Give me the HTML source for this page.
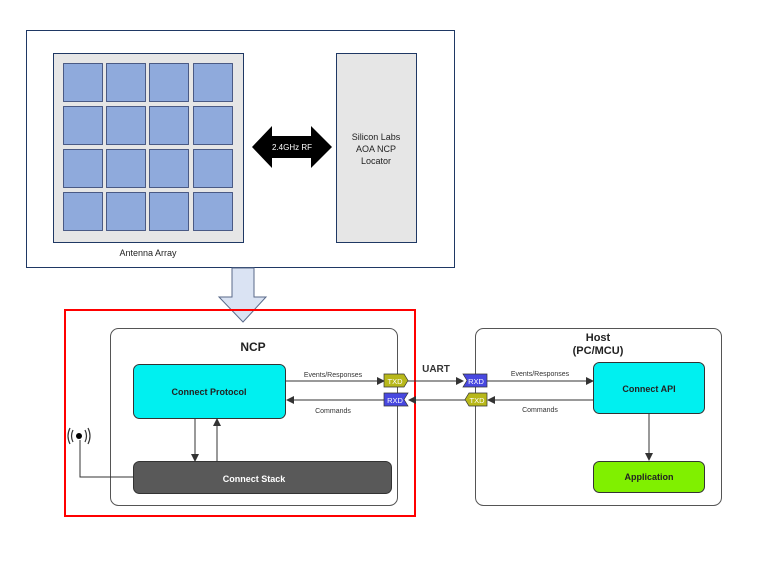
<!DOCTYPE html>
<html><head><meta charset="utf-8"><style>
body{margin:0;background:#fff;}
svg text{font-family:"Liberation Sans",sans-serif;}
</style></head><body>
<svg width="767" height="562" viewBox="0 0 767 562" xmlns="http://www.w3.org/2000/svg">
<defs>
<marker id="a" markerWidth="8" markerHeight="8" refX="7" refY="4" orient="auto" markerUnits="userSpaceOnUse"><path d="M0,0 L8,4 L0,8 z" fill="#333"/></marker>
</defs>
<rect x="26.5" y="30.5" width="428" height="237" fill="#fff" stroke="#1f3864"/>
<rect x="53.5" y="53.5" width="190" height="189" fill="#e6e6e6" stroke="#1f3864"/>
<g fill="#8faadc" stroke="#2f3f6f" stroke-width="0.8">
<rect x="63.5" y="63.5" width="39" height="38"/><rect x="106.5" y="63.5" width="39" height="38"/><rect x="149.5" y="63.5" width="39" height="38"/><rect x="193.5" y="63.5" width="39" height="38"/>
<rect x="63.5" y="106.5" width="39" height="38"/><rect x="106.5" y="106.5" width="39" height="38"/><rect x="149.5" y="106.5" width="39" height="38"/><rect x="193.5" y="106.5" width="39" height="38"/>
<rect x="63.5" y="149.5" width="39" height="38"/><rect x="106.5" y="149.5" width="39" height="38"/><rect x="149.5" y="149.5" width="39" height="38"/><rect x="193.5" y="149.5" width="39" height="38"/>
<rect x="63.5" y="192.5" width="39" height="38"/><rect x="106.5" y="192.5" width="39" height="38"/><rect x="149.5" y="192.5" width="39" height="38"/><rect x="193.5" y="192.5" width="39" height="38"/>
</g>
<text x="148" y="256" font-size="9" text-anchor="middle" fill="#222">Antenna Array</text>
<rect x="336.5" y="53.5" width="80" height="189" fill="#e6e6e6" stroke="#1f3864"/>
<text x="376" y="140" font-size="9" text-anchor="middle" fill="#222">Silicon Labs</text>
<text x="376" y="152" font-size="9" text-anchor="middle" fill="#222">AOA NCP</text>
<text x="376" y="164" font-size="9" text-anchor="middle" fill="#222">Locator</text>
<path d="M252,147 L272,126 L272,136 L311,136 L311,126 L332,147 L311,168 L311,158 L272,158 L272,168 z" fill="#000"/>
<text x="292" y="150" font-size="8" text-anchor="middle" fill="#fff">2.4GHz RF</text>
<path d="M232,268 L254,268 L254,297 L266,297 L243,322 L219,297 L232,297 z" fill="#dae3f3" stroke="#5a6a8a"/>
<rect x="65" y="310" width="350" height="206" fill="none" stroke="#f00" stroke-width="2"/>
<rect x="110.5" y="328.5" width="287" height="177" rx="8" fill="none" stroke="#555"/>
<text x="253" y="351" font-size="12" font-weight="bold" text-anchor="middle" fill="#222">NCP</text>
<rect x="133.5" y="364.5" width="152" height="54" rx="6" fill="#00f0f0" stroke="#333"/>
<text x="209" y="395" font-size="9" font-weight="bold" text-anchor="middle" fill="#222">Connect Protocol</text>
<rect x="133.5" y="461.5" width="258" height="32" rx="6" fill="#595959" stroke="#333"/>
<text x="254" y="482" font-size="9" font-weight="bold" text-anchor="middle" fill="#fff">Connect Stack</text>
<line x1="195" y1="419" x2="195" y2="461" stroke="#333" marker-end="url(#a)"/>
<line x1="217" y1="461" x2="217" y2="419" stroke="#333" marker-end="url(#a)"/>
<polyline points="80,440 80,477 133,477" fill="none" stroke="#333"/>
<circle cx="79" cy="436" r="3" fill="#000"/>
<path d="M73,430 Q70,436 73,442 M85,430 Q88,436 85,442 M70,428 Q66,436 70,444 M88,428 Q92,436 88,444" fill="none" stroke="#333" stroke-width="1.2"/>
<line x1="286" y1="381" x2="384" y2="381" stroke="#333" marker-end="url(#a)"/>
<line x1="384" y1="400" x2="287" y2="400" stroke="#333" marker-end="url(#a)"/>
<text x="333" y="377" font-size="7" text-anchor="middle" fill="#333">Events/Responses</text>
<text x="333" y="413" font-size="7" text-anchor="middle" fill="#333">Commands</text>
<line x1="408" y1="381" x2="463" y2="381" stroke="#333" marker-end="url(#a)"/>
<line x1="465" y1="400" x2="409" y2="400" stroke="#333" marker-end="url(#a)"/>
<text x="436" y="372" font-size="10" font-weight="bold" text-anchor="middle" fill="#333">UART</text>
<path d="M384,374 L404,374 L408,380.5 L404,387 L384,387 z" fill="#b8b81a" stroke="#333" stroke-width="0.7"/>
<text x="395" y="384" font-size="7.5" text-anchor="middle" fill="#fff">TXD</text>
<path d="M384,393 L408,393 L404,399.5 L408,406 L384,406 z" fill="#4848e0" stroke="#333" stroke-width="0.7"/>
<text x="395" y="403" font-size="7.5" text-anchor="middle" fill="#fff">RXD</text>
<rect x="475.5" y="328.5" width="246" height="177" rx="8" fill="none" stroke="#555"/>
<text x="598" y="341" font-size="11" font-weight="bold" text-anchor="middle" fill="#222">Host</text>
<text x="598" y="354" font-size="11" font-weight="bold" text-anchor="middle" fill="#222">(PC/MCU)</text>
<path d="M463,374 L487,374 L487,387 L463,387 L467,380.5 z" fill="#4848e0" stroke="#333" stroke-width="0.7"/>
<text x="476" y="384" font-size="7.5" text-anchor="middle" fill="#fff">RXD</text>
<path d="M469,393 L487,393 L487,406 L469,406 L465,399.5 z" fill="#b8b81a" stroke="#333" stroke-width="0.7"/>
<text x="477" y="403" font-size="7.5" text-anchor="middle" fill="#fff">TXD</text>
<line x1="487" y1="381" x2="593" y2="381" stroke="#333" marker-end="url(#a)"/>
<line x1="593" y1="400" x2="488" y2="400" stroke="#333" marker-end="url(#a)"/>
<text x="540" y="376" font-size="7" text-anchor="middle" fill="#333">Events/Responses</text>
<text x="540" y="412" font-size="7" text-anchor="middle" fill="#333">Commands</text>
<rect x="593.5" y="362.5" width="111" height="51" rx="6" fill="#00f0f0" stroke="#333"/>
<text x="649" y="392" font-size="9" font-weight="bold" text-anchor="middle" fill="#222">Connect API</text>
<line x1="649" y1="414" x2="649" y2="460" stroke="#333" marker-end="url(#a)"/>
<rect x="593.5" y="461.5" width="111" height="31" rx="6" fill="#80f000" stroke="#333"/>
<text x="649" y="480" font-size="9" font-weight="bold" text-anchor="middle" fill="#222">Application</text>
</svg>
</body></html>
